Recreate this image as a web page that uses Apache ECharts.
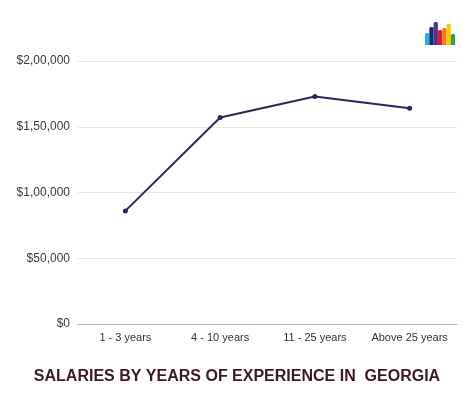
<!DOCTYPE html>
<html><head><meta charset="utf-8">
<script src="https://cdn.jsdelivr.net/npm/echarts@6/dist/echarts.min.js"></script>
<style>html,body{margin:0;padding:0;background:#fff}#c{width:474px;height:397px}</style>
</head><body><div id="c"></div>
<script>
const categories = ['1 - 3 years', '4 - 10 years', '11 - 25 years', 'Above 25 years'];
const salaries = [86000, 157000, 173000, 164000];
const yTickLabels = {0: '$0', 50000: '$50,000', 100000: '$1,00,000', 150000: '$1,50,000', 200000: '$2,00,000'};
const titleText = 'SALARIES BY YEARS OF EXPERIENCE IN  GEORGIA';
const logoColors = ['#1fb6e0', '#1b2a6b', '#5b2d91', '#d6202a', '#f47a20', '#f5c800', '#2f9e44'];

const chart = echarts.init(document.getElementById('c'));
const logoX = 425, logoBottom = 45;
const logoHeights = [12, 18, 23, 15, 17, 21, 11];
const logo = logoColors.map((col, i) => ({
  type: 'rect', shape: {x: logoX + i * 4.3, y: logoBottom - logoHeights[i], width: 4.3, height: logoHeights[i], r: [1.5, 1.5, 0, 0]},
  style: {fill: col}, silent: true
}));
chart.setOption({
  animation: false,
  grid: {left: 78, right: 17, top: 61, bottom: 73},
  title: {text: titleText, left: 'center', top: 364,
    textStyle: {fontFamily: 'Liberation Sans', fontWeight: 'bold', fontSize: 16, color: '#3a1a20'}},
  xAxis: {type: 'category', data: categories, boundaryGap: true,
    axisLine: {lineStyle: {color: '#b0b0b0'}}, axisTick: {show: false},
    axisLabel: {interval: 0, color: '#333', fontSize: 11, fontFamily: 'Liberation Sans', margin: 8}},
  yAxis: {type: 'value', min: 0, max: 200000, interval: 50000,
    axisLine: {show: false}, axisTick: {show: false},
    splitLine: {lineStyle: {color: '#e6e6e6'}},
    axisLabel: {color: '#3a3a3a', fontSize: 12, fontFamily: 'Liberation Sans', margin: 8,
      formatter: v => yTickLabels[v]}},
  series: [{type: 'line', data: salaries, symbol: 'circle', symbolSize: 5,
    lineStyle: {color: '#2a2560', width: 2}, itemStyle: {color: '#2a2560'}}],
  graphic: logo
});
</script></body></html>
